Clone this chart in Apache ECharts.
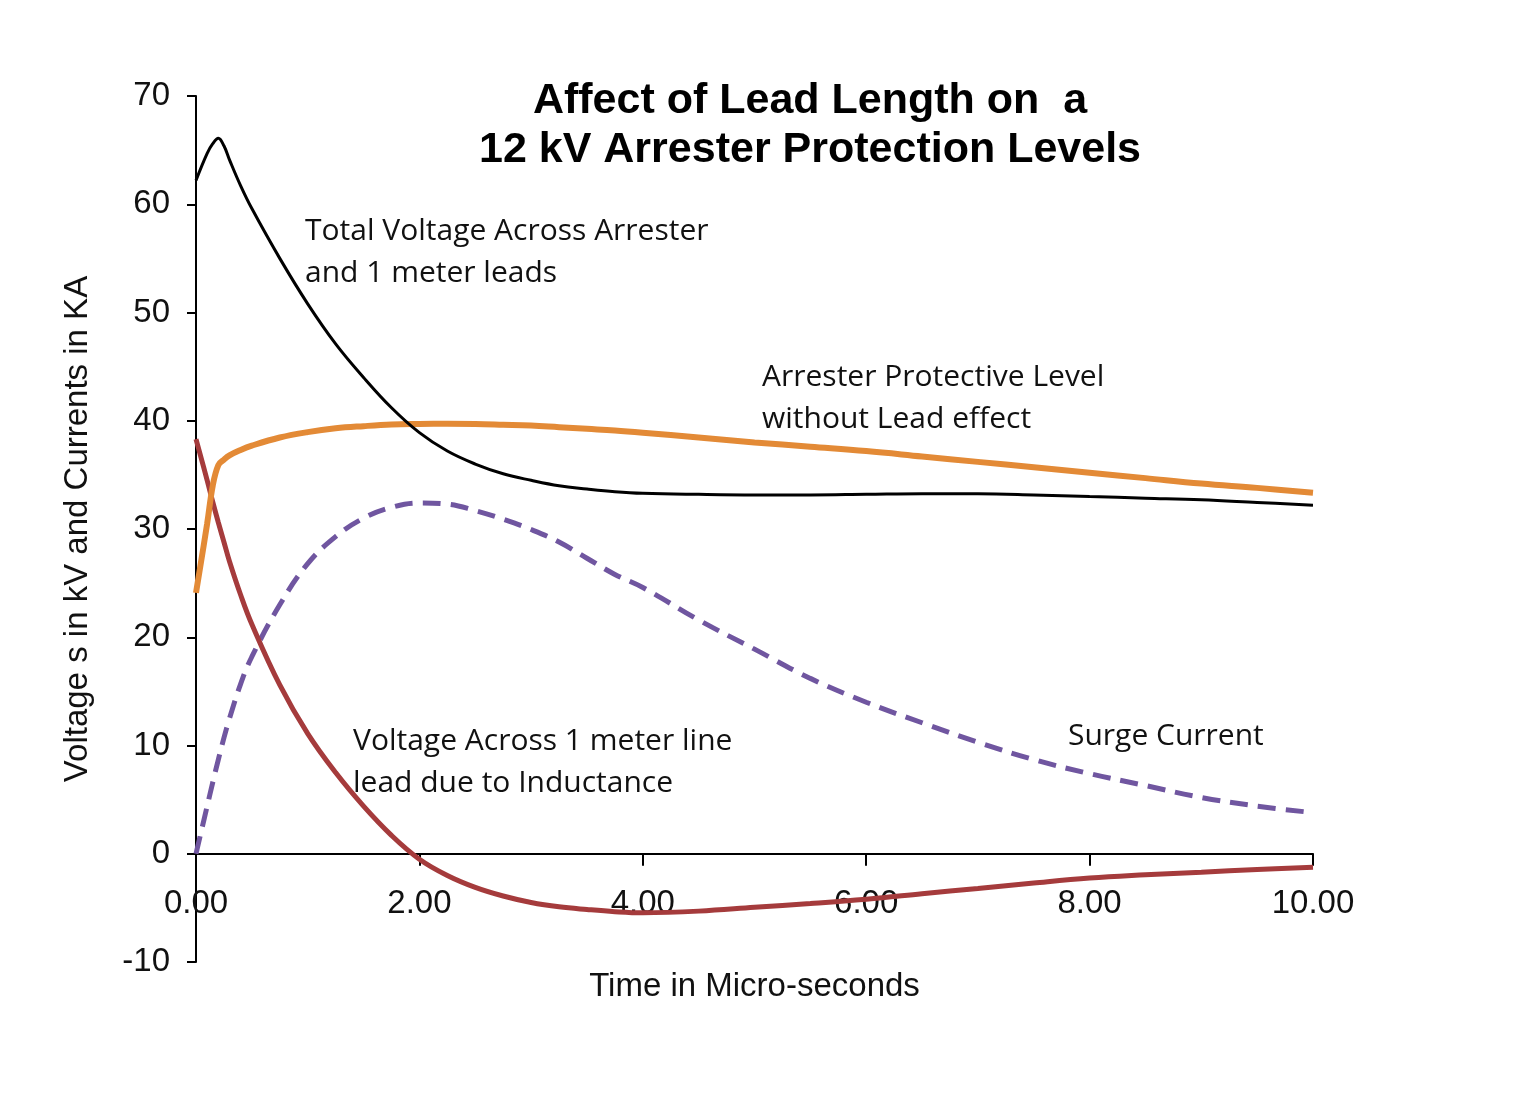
<!DOCTYPE html>
<html>
<head>
<meta charset="utf-8">
<script src="https://cdn.jsdelivr.net/npm/echarts@6/dist/echarts.min.js"></script>
<style>
html,body{margin:0;padding:0;background:#fff;}
#chart{width:1536px;height:1097px;}
</style>
</head>
<body>
<div id="chart"></div>
<script>
// Time in micro-seconds
var timeUs = [0, 0.1, 0.15, 0.2, 0.25, 0.3, 0.4, 0.5, 0.75, 1, 1.25, 1.5, 1.75, 2, 2.25, 2.5, 2.75, 3, 3.25, 3.5, 3.75, 4, 4.5, 5, 5.5, 6, 6.5, 7, 7.5, 8, 8.5, 9, 9.5, 10];
// Total Voltage Across Arrester and 1 meter leads (kV)
var totalVoltage = [62.2, 64.7, 65.6, 66.1, 65.4, 64.1, 61.7, 59.6, 55.0, 50.8, 47.1, 44.0, 41.2, 38.9, 37.2, 36.0, 35.1, 34.5, 34.0, 33.7, 33.45, 33.3, 33.2, 33.15, 33.15, 33.2, 33.25, 33.25, 33.15, 33.0, 32.85, 32.7, 32.45, 32.2];
// Arrester Protective Level without Lead effect (kV)
var protectiveLevel = [24.1, 30.5, 34.0, 35.9, 36.4, 36.8, 37.3, 37.7, 38.45, 38.95, 39.3, 39.5, 39.65, 39.7, 39.72, 39.7, 39.63, 39.55, 39.4, 39.25, 39.1, 38.9, 38.45, 38.0, 37.6, 37.2, 36.7, 36.2, 35.7, 35.2, 34.7, 34.2, 33.8, 33.35];
// Voltage Across 1 meter line lead due to Inductance (kV)
var leadVoltage = [38.3, 34.5, 32.5, 30.6, 28.8, 27.0, 23.9, 21.2, 15.6, 11.1, 7.5, 4.4, 1.7, -0.5, -2.0, -3.1, -3.9, -4.5, -4.9, -5.15, -5.35, -5.45, -5.3, -4.95, -4.6, -4.2, -3.7, -3.2, -2.7, -2.25, -1.95, -1.7, -1.45, -1.25];
// Surge Current (kA)
var surgeCurrent = [0, 4.4, 6.6, 8.7, 10.7, 12.5, 15.7, 18.2, 23.0, 26.8, 29.3, 31.0, 32.0, 32.4, 32.3, 31.7, 30.9, 29.95, 28.8, 27.3, 25.8, 24.6, 21.6, 18.9, 16.2, 14.0, 12.1, 10.3, 8.7, 7.4, 6.3, 5.2, 4.4, 3.8];

var titleLines = ['Affect of Lead Length on  a', '12 kV Arrester Protection Levels'];
var xAxisName = 'Time in Micro-seconds';
var yAxisName = 'Voltage s in kV and Currents in KA';
var annotations = [
  {text: 'Total Voltage Across Arrester\nand 1 meter leads', x: 305, y: 210},
  {text: 'Arrester Protective Level\nwithout Lead effect', x: 762, y: 356},
  {text: 'Voltage Across 1 meter line\nlead due to Inductance', x: 353, y: 720},
  {text: 'Surge Current', x: 1068, y: 715}
];

function pairs(xs, ys){ return xs.map(function(x,i){ return [x, ys[i]]; }); }

var chart = echarts.init(document.getElementById('chart'));
var axisFont = 'Liberation Sans, Arial, sans-serif';
var noteFont = 'Open Sans, Lato, sans-serif';

chart.setOption({
  backgroundColor: '#ffffff',
  animation: false,
  title: {
    text: titleLines.join('\n'),
    left: 805, top: 72, textAlign: 'center',
    textStyle: {fontFamily: axisFont, fontWeight: 'bold', fontSize: 43, lineHeight: 49, color: '#000'}
  },
  grid: {left: 196, right: 223, top: 96, bottom: 135, containLabel: false, outerBoundsMode: 'none'},
  xAxis: {
    type: 'value', min: 0, max: 10, interval: 2,
    name: xAxisName, nameLocation: 'middle', nameGap: 8,
    nameTextStyle: {fontFamily: axisFont, fontSize: 33, color: '#111'},
    axisLine: {show: true, onZero: true, lineStyle: {color: '#000', width: 2}},
    axisTick: {show: true, inside: false, length: 12, lineStyle: {color: '#000', width: 2}},
    axisLabel: {margin: -75, fontFamily: axisFont, fontSize: 33, color: '#111',
      formatter: function(v){ return v.toFixed(2); }},
    splitLine: {show: false}
  },
  yAxis: {
    type: 'value', min: -10, max: 70, interval: 10,
    name: yAxisName, nameLocation: 'middle', nameGap: 102, nameRotate: 90,
    nameTextStyle: {fontFamily: axisFont, fontSize: 33, color: '#111'},
    axisLine: {show: true, lineStyle: {color: '#000', width: 2}},
    axisTick: {show: true, length: 9, lineStyle: {color: '#000', width: 2}},
    axisLabel: {margin: 26, fontFamily: axisFont, fontSize: 33, color: '#111'},
    splitLine: {show: false}
  },
  graphic: annotations.map(function(a){
    return {type: 'text', left: a.x, top: a.y, silent: true,
      style: {text: a.text, fontFamily: noteFont, fontSize: 30, lineHeight: 42, fill: '#111'}};
  }),
  series: [
    {name: 'Surge Current', type: 'line', smooth: 0.4, symbol: 'none', data: pairs(timeUs, surgeCurrent),
      lineStyle: {color: '#7056A0', width: 5, type: [18, 10]}},
    {name: 'Voltage Across 1 meter line lead', type: 'line', smooth: 0.4, symbol: 'none', data: pairs(timeUs, leadVoltage),
      lineStyle: {color: '#A53B3C', width: 5}},
    {name: 'Arrester Protective Level', type: 'line', smooth: 0.4, symbol: 'none', data: pairs(timeUs, protectiveLevel),
      lineStyle: {color: '#E38A36', width: 6}},
    {name: 'Total Voltage', type: 'line', smooth: 0.4, symbol: 'none', data: pairs(timeUs, totalVoltage),
      lineStyle: {color: '#000000', width: 3}}
  ]
});
</script>
</body>
</html>
